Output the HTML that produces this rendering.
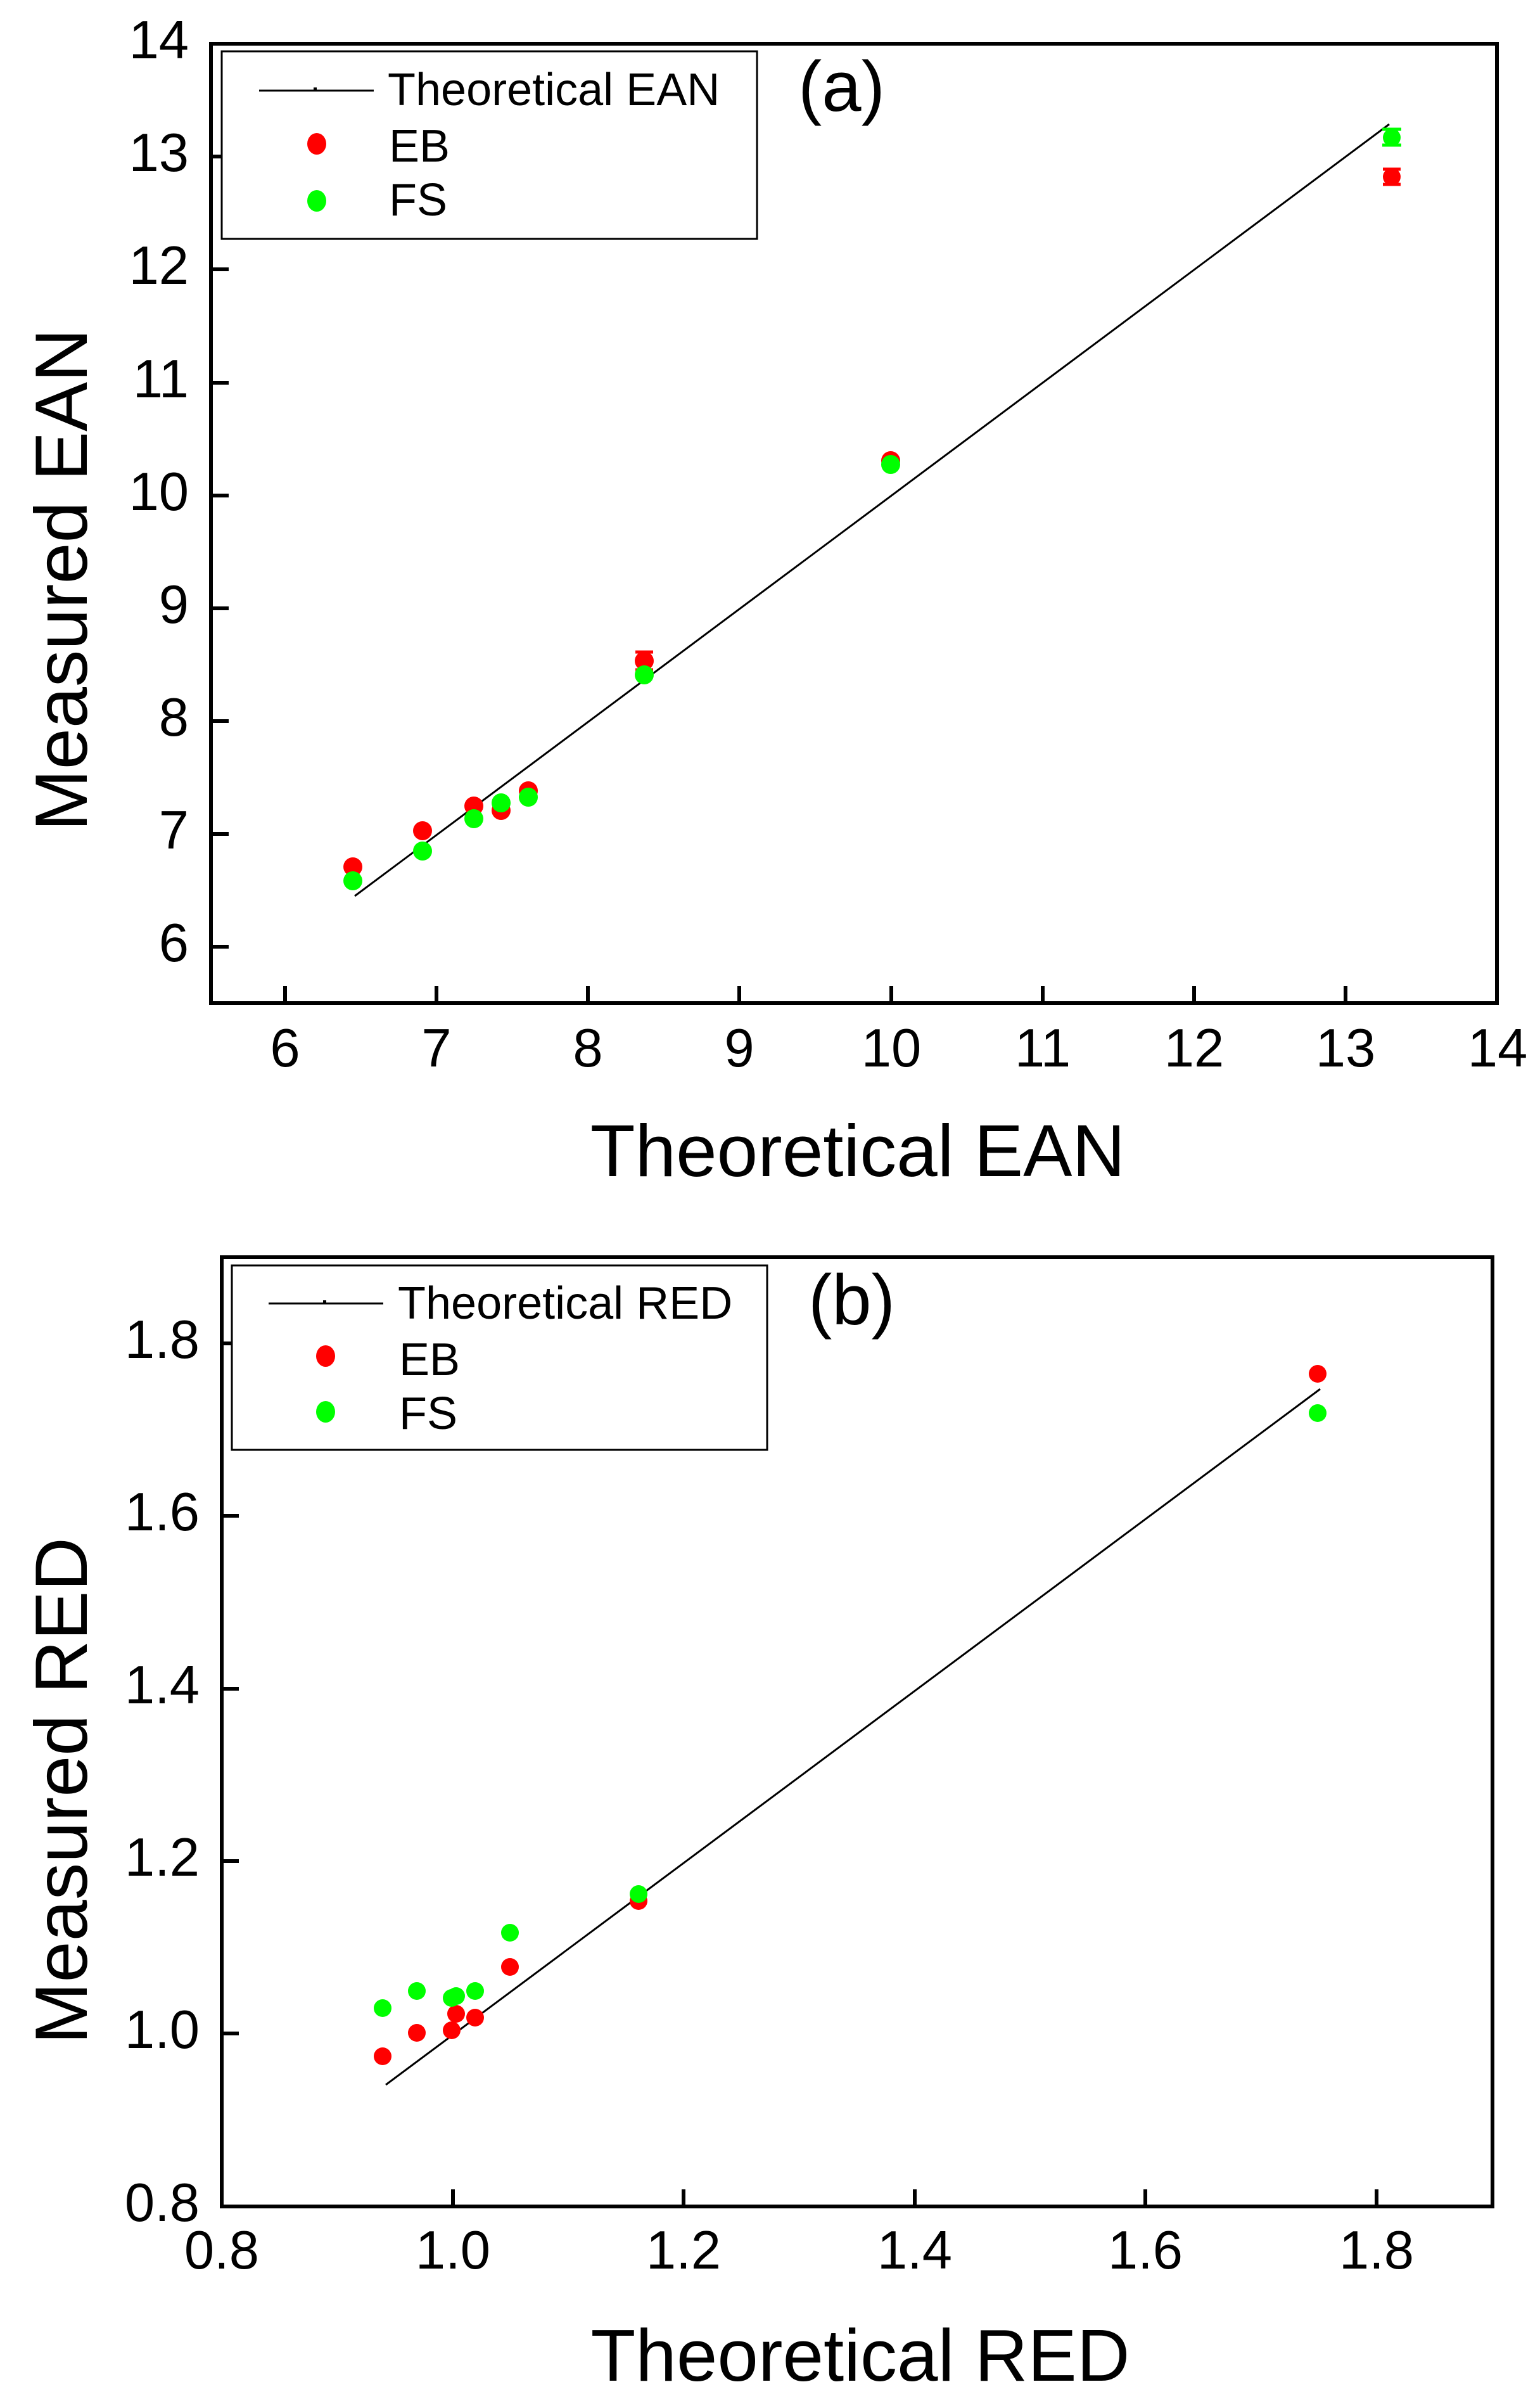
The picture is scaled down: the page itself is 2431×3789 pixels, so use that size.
<!DOCTYPE html>
<html>
<head>
<meta charset="utf-8">
<style>
  html, body { margin: 0; padding: 0; background: #fff; }
  svg { display: block; }
  text { font-family: "Liberation Sans", Arial, sans-serif; fill: #000; }
</style>
</head>
<body>
<svg xmlns="http://www.w3.org/2000/svg" width="2431" height="3789" viewBox="0 0 2431 3789">
  <rect x="0" y="0" width="2431" height="3789" fill="#fff"/>

  <!-- ================= PANEL (a) ================= -->
  <rect x="333" y="69" width="2030" height="1514" fill="none" stroke="#000" stroke-width="6"/>
  <g stroke="#000" stroke-width="6">
    <line x1="333" y1="1494" x2="361" y2="1494"/>
    <line x1="333" y1="1316" x2="361" y2="1316"/>
    <line x1="333" y1="1138" x2="361" y2="1138"/>
    <line x1="333" y1="960" x2="361" y2="960"/>
    <line x1="333" y1="782" x2="361" y2="782"/>
    <line x1="333" y1="604" x2="361" y2="604"/>
    <line x1="333" y1="425" x2="361" y2="425"/>
    <line x1="333" y1="247" x2="361" y2="247"/>
    <line x1="450" y1="1583" x2="450" y2="1556"/>
    <line x1="689" y1="1583" x2="689" y2="1556"/>
    <line x1="928" y1="1583" x2="928" y2="1556"/>
    <line x1="1167" y1="1583" x2="1167" y2="1556"/>
    <line x1="1407" y1="1583" x2="1407" y2="1556"/>
    <line x1="1646" y1="1583" x2="1646" y2="1556"/>
    <line x1="1885" y1="1583" x2="1885" y2="1556"/>
    <line x1="2124" y1="1583" x2="2124" y2="1556"/>
  </g>
  <g font-size="85" text-anchor="end">
    <text x="298" y="1517">6</text>
    <text x="298" y="1339">7</text>
    <text x="298" y="1161">8</text>
    <text x="298" y="983">9</text>
    <text x="298" y="805">10</text>
    <text x="298" y="627">11</text>
    <text x="298" y="448">12</text>
    <text x="298" y="270">13</text>
    <text x="298" y="92">14</text>
  </g>
  <g font-size="85" text-anchor="middle">
    <text x="450" y="1683">6</text>
    <text x="689" y="1683">7</text>
    <text x="928" y="1683">8</text>
    <text x="1167" y="1683">9</text>
    <text x="1407" y="1683">10</text>
    <text x="1646" y="1683">11</text>
    <text x="1885" y="1683">12</text>
    <text x="2124" y="1683">13</text>
    <text x="2364" y="1683">14</text>
  </g>
  <text x="1354" y="1856" font-size="116" text-anchor="middle">Theoretical EAN</text>
  <text transform="translate(137,915) rotate(-90)" font-size="117" text-anchor="middle">Measured EAN</text>
  <text x="1260" y="175" font-size="112">(a)</text>

  <line x1="560" y1="1414" x2="2193" y2="196" stroke="#000" stroke-width="3"/>

  <g stroke-width="5">
    <g stroke="#ff0000">
      <line x1="2197" y1="267" x2="2197" y2="291"/>
      <line x1="2183" y1="267" x2="2211" y2="267"/>
      <line x1="2183" y1="291" x2="2211" y2="291"/>
      <line x1="1017" y1="1029" x2="1017" y2="1057"/>
      <line x1="1003" y1="1029" x2="1031" y2="1029"/>
      <line x1="1003" y1="1057" x2="1031" y2="1057"/>
    </g>
    <g stroke="#00ff00">
      <line x1="2197" y1="204" x2="2197" y2="229"/>
      <line x1="2182" y1="204" x2="2212" y2="204"/>
      <line x1="2182" y1="229" x2="2212" y2="229"/>
    </g>
  </g>

  <g fill="#ff0000">
    <circle cx="557" cy="1368" r="15"/>
    <circle cx="667" cy="1311" r="15"/>
    <circle cx="748" cy="1272" r="15"/>
    <circle cx="791" cy="1279" r="15"/>
    <circle cx="834" cy="1248" r="15"/>
    <circle cx="1017" cy="1043" r="15"/>
    <circle cx="1406" cy="727" r="15"/>
    <circle cx="2197" cy="279" r="14"/>
  </g>
  <g fill="#00ff00">
    <circle cx="557" cy="1390" r="15"/>
    <circle cx="667" cy="1343" r="15"/>
    <circle cx="748" cy="1292" r="15"/>
    <circle cx="791" cy="1267" r="15"/>
    <circle cx="834" cy="1258" r="15"/>
    <circle cx="1017" cy="1065" r="15"/>
    <circle cx="1406" cy="733" r="15"/>
    <circle cx="2197" cy="217" r="14"/>
  </g>

  <rect x="350" y="81" width="845" height="296" fill="#fff" stroke="#000" stroke-width="3"/>
  <line x1="409" y1="143" x2="590" y2="143" stroke="#000" stroke-width="3"/>
  <rect x="495" y="138" width="5" height="5" fill="#000"/>
  <text x="612" y="166" font-size="72">Theoretical EAN</text>
  <ellipse cx="500" cy="227" rx="15" ry="17" fill="#ff0000"/>
  <text x="614" y="255" font-size="72">EB</text>
  <ellipse cx="500" cy="317" rx="15" ry="17" fill="#00ff00"/>
  <text x="614" y="340" font-size="72">FS</text>

  <!-- ================= PANEL (b) ================= -->
  <rect x="350" y="1984" width="2006" height="1498" fill="none" stroke="#000" stroke-width="6"/>
  <g stroke="#000" stroke-width="6">
    <line x1="350" y1="3209" x2="377" y2="3209"/>
    <line x1="350" y1="2937" x2="377" y2="2937"/>
    <line x1="350" y1="2665" x2="377" y2="2665"/>
    <line x1="350" y1="2392" x2="377" y2="2392"/>
    <line x1="350" y1="2120" x2="377" y2="2120"/>
    <line x1="715" y1="3482" x2="715" y2="3455"/>
    <line x1="1079" y1="3482" x2="1079" y2="3455"/>
    <line x1="1444" y1="3482" x2="1444" y2="3455"/>
    <line x1="1808" y1="3482" x2="1808" y2="3455"/>
    <line x1="2173" y1="3482" x2="2173" y2="3455"/>
  </g>
  <g font-size="85" text-anchor="end">
    <text x="315" y="3505">0.8</text>
    <text x="315" y="3232">1.0</text>
    <text x="315" y="2960">1.2</text>
    <text x="315" y="2688">1.4</text>
    <text x="315" y="2415">1.6</text>
    <text x="315" y="2143">1.8</text>
  </g>
  <g font-size="85" text-anchor="middle">
    <text x="350" y="3580">0.8</text>
    <text x="715" y="3580">1.0</text>
    <text x="1079" y="3580">1.2</text>
    <text x="1444" y="3580">1.4</text>
    <text x="1808" y="3580">1.6</text>
    <text x="2173" y="3580">1.8</text>
  </g>
  <text x="1358" y="3757" font-size="116" text-anchor="middle">Theoretical RED</text>
  <text transform="translate(137,2826) rotate(-90)" font-size="117" text-anchor="middle">Measured RED</text>
  <text x="1276" y="2090" font-size="112">(b)</text>

  <line x1="609" y1="3290" x2="2084" y2="2192" stroke="#000" stroke-width="3"/>

  <g fill="#ff0000">
    <circle cx="604" cy="3245" r="14"/>
    <circle cx="658" cy="3208" r="14"/>
    <circle cx="713" cy="3204" r="14"/>
    <circle cx="720" cy="3178" r="14"/>
    <circle cx="750" cy="3184" r="14"/>
    <circle cx="805" cy="3104" r="14"/>
    <circle cx="1008" cy="3000" r="14"/>
    <circle cx="2080" cy="2168" r="14"/>
  </g>
  <g fill="#00ff00">
    <circle cx="604" cy="3169" r="14"/>
    <circle cx="658" cy="3142" r="14"/>
    <circle cx="713" cy="3153" r="14"/>
    <circle cx="720" cy="3150" r="14"/>
    <circle cx="750" cy="3142" r="14"/>
    <circle cx="805" cy="3050" r="14"/>
    <circle cx="1008" cy="2989" r="14"/>
    <circle cx="2080" cy="2230" r="14"/>
  </g>

  <rect x="366" y="1997" width="845" height="291" fill="#fff" stroke="#000" stroke-width="3"/>
  <line x1="424" y1="2057" x2="605" y2="2057" stroke="#000" stroke-width="3"/>
  <rect x="510" y="2052" width="5" height="5" fill="#000"/>
  <text x="628" y="2081" font-size="72">Theoretical RED</text>
  <ellipse cx="514" cy="2140" rx="15" ry="17" fill="#ff0000"/>
  <text x="630" y="2170" font-size="72">EB</text>
  <ellipse cx="514" cy="2228" rx="15" ry="17" fill="#00ff00"/>
  <text x="630" y="2255" font-size="72">FS</text>
</svg>
</body>
</html>
